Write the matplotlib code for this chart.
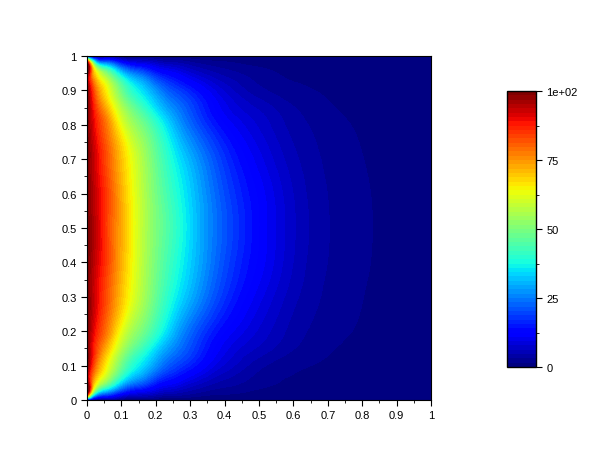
import matplotlib

matplotlib.use("Agg")
import matplotlib.pyplot as plt
import matplotlib.tri as mtri
import numpy as np
from matplotlib.cm import ScalarMappable
from matplotlib.colors import BoundaryNorm
from matplotlib.ticker import MultipleLocator

plt.rcParams["font.family"] = ["Liberation Sans", "DejaVu Sans"]

# grid positions
x_pos = [0, 0.02, 0.05, 0.1, 0.15, 0.2, 0.25, 0.3, 0.4, 0.5, 0.6, 0.7, 0.8, 0.9, 1.0]
y_pos = [0, 0.02, 0.05, 0.1, 0.15, 0.2, 0.3, 0.4, 0.5,
         0.6, 0.7, 0.8, 0.85, 0.9, 0.95, 0.98, 1.0]

# temperature estimated along rows y = 0 ... 0.5 (field is symmetric about y = 0.5)
row_000 = [0, 0, 0, 0, 0, 0, 0, 0, 0, 0, 0, 0, 0, 0, 0]
row_002 = [100, 45, 25, 14, 9, 6.5, 4.8, 3.5, 1.8, 1.0, 0.6, 0.3, 0.15, 0.07, 0]
row_005 = [100, 70, 53, 33, 23, 15.5, 11.5, 8, 4.0, 2.2, 1.2, 0.65, 0.35, 0.17, 0]
row_010 = [100, 82, 67, 48, 36, 27, 20, 15.5, 7.5, 3.6, 2.0, 1.3, 0.7, 0.35, 0]
row_015 = [100, 87, 74, 56, 44, 34, 26, 20, 10, 5.9, 3.2, 1.75, 0.95, 0.45, 0]
row_020 = [100, 90, 80, 62.5, 51, 41, 31, 23, 12.5, 7.5, 4, 2.3, 1.25, 0.6, 0]
row_030 = [100, 93, 84, 70, 58, 47, 37.5, 30, 17.5, 10, 5.2, 2.8, 1.6, 0.8, 0]
row_040 = [100, 94, 86, 72, 59.5, 49, 40.5, 33, 20, 12, 6.2, 3.1, 1.8, 0.88, 0]
row_050 = [100, 95, 86, 72.5, 60, 50, 42, 34, 21, 12.5, 6.5, 3.2, 1.85, 0.9, 0]

lower_rows = [row_000, row_002, row_005, row_010, row_015, row_020, row_030, row_040, row_050]
temp = np.array(lower_rows + lower_rows[-2::-1])

cbar_ticks = [0, 25, 50, 75, 100]
cbar_labels = ["0", "25", "50", "75", "1e+02"]

fig = plt.figure(figsize=(6.1, 4.6), dpi=100)
ax = fig.add_axes([87 / 610, 1 - 401 / 460, 344 / 610, 344 / 460])
cax = fig.add_axes([507 / 610, 1 - 368 / 460, 29 / 610, 276 / 460])

cmap = plt.get_cmap("jet", 64)
levels = np.linspace(0, 100, 65)

# smooth the read-off table with matplotlib's own triangle refiner
gx, gy = np.meshgrid(x_pos, y_pos)
tri = mtri.Triangulation(gx.ravel(), gy.ravel())
refiner = mtri.UniformTriRefiner(tri)
fine_tri, fine_temp = refiner.refine_field(temp.ravel(), subdiv=3)

fill_levels = levels.copy()
fill_levels[0] = -1e3
fill_levels[-1] = 1e3
ax.tricontourf(fine_tri, fine_temp, levels=fill_levels, cmap=cmap, vmin=0, vmax=100)

ax.set_xlim(0, 1)
ax.set_ylim(0, 1)
ax.xaxis.set_major_locator(MultipleLocator(0.1))
ax.yaxis.set_major_locator(MultipleLocator(0.1))
ax.xaxis.set_minor_locator(MultipleLocator(0.05))
ax.yaxis.set_minor_locator(MultipleLocator(0.05))
ax.xaxis.set_major_formatter(lambda v, p: f"{v:g}")
ax.yaxis.set_major_formatter(lambda v, p: f"{v:g}")
ax.tick_params(which="both", direction="out", labelsize=8, top=False, right=False)
ax.tick_params(which="major", length=4)
ax.tick_params(which="minor", length=2.5)

sm = ScalarMappable(norm=BoundaryNorm(levels, 64), cmap=cmap)
cb = fig.colorbar(sm, cax=cax)
cb.set_ticks(cbar_ticks)
cb.set_ticklabels(cbar_labels)
cb.ax.yaxis.set_minor_locator(MultipleLocator(12.5))
cb.ax.tick_params(which="both", direction="out", labelsize=8)
cb.ax.tick_params(which="major", length=4)
cb.ax.tick_params(which="minor", length=2.5)
cb.outline.set_linewidth(1.0)

fig.savefig("out.png", dpi=100)
plt.close(fig)
